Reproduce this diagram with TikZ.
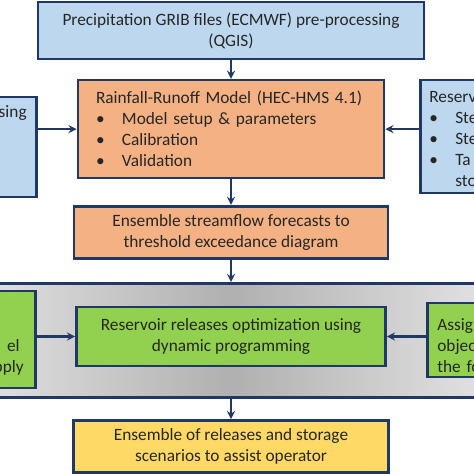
\documentclass[tikz,border=0pt]{standalone}
\usepackage{fontspec}
\setmainfont{Carlito}
\usepackage{tikz}
\usetikzlibrary{positioning,arrows}
\definecolor{navyline}{RGB}{32,56,100}
\definecolor{boxblue}{RGB}{189,215,238}
\definecolor{boxorange}{RGB}{244,177,131}
\definecolor{boxgreen}{RGB}{146,208,80}
\definecolor{boxyellow}{RGB}{255,217,102}
\newcommand{\itembul}{\makebox[26pt][l]{\textbullet}}

\begin{document}
\begin{tikzpicture}[x=1pt, y=-1pt, node distance=20pt, >=stealth, line width=2.6pt, font=\fontsize{17.3}{21}\selectfont]
  \tikzstyle{box} = [rectangle, draw=navyline, text=black!85, inner sep=0pt]
  \tikzstyle{bluebox} = [box, fill=boxblue]
  \tikzstyle{orangebox} = [box, fill=boxorange]
  \tikzstyle{greenbox} = [box, fill=boxgreen]
  \tikzstyle{yellowbox} = [box, fill=boxyellow]
  \tikzstyle{link} = [->, draw=navyline]

  \useasboundingbox (0,0) rectangle (474,474);
  \clip (0,0) rectangle (474,474);

  % main column
  \node[bluebox, minimum width=386, minimum height=57, align=center] (prep) at (231,30.5) {Precipitation GRIB files (ECMWF) pre-processing\\(QGIS)};
  \node[orangebox, text width=270pt, inner xsep=18pt, minimum height=98, align=left] (rr) [below=18.5pt of prep] {Rainfall-Runoff Model (HEC-HMS 4.1)\\ \itembul Model setup \& parameters\\ \itembul Calibration\\ \itembul Validation};
  \node[orangebox, minimum width=314, minimum height=52, align=center] (ens) [below=25.5pt of rr] {Ensemble streamflow forecasts to\\threshold exceedance diagram};
  \node[box, left color=gray!22, right color=gray!22, middle color=gray!62, minimum width=520, minimum height=114] (band) [below=22.5pt of ens] {};
  \node[greenbox, minimum width=309, minimum height=59, align=center] (opt) at (231,336.5) {Reservoir releases optimization using\\dynamic programming};
  \node[yellowbox, minimum width=315, minimum height=52, align=center] (out) [below=20.5pt of band] {Ensemble of releases and storage\\scenarios to assist operator};

  % side boxes
  \node[bluebox, anchor=east, text width=80pt, inner xsep=10pt, align=right, text height=20pt, text depth=80pt] (hydro) at (38,147) {sing};
  \node[bluebox, anchor=west, text width=102pt, inner xsep=9pt, align=left, text height=22pt, text depth=91pt] (resv) at (419,136.5) {Reserv\\ \itembul Ste\\ \itembul Ste\\ \itembul Ta\\ \hspace*{26pt}sto};
  \node[greenbox, anchor=east, text width=80pt, inner xsep=12pt, align=right, text height=60pt, text depth=37pt] (demand) at (37,339.5) {el\rule{4pt}{0pt}\\pply};
  \node[greenbox, anchor=west, text width=80pt, inner xsep=10pt, align=left, text height=27pt, text depth=47pt] (assign) at (426,340) {Assig\\objec\\the fo};

  \draw[link] (prep) -- (rr);
  \draw[link] (hydro.east |- rr.west) -- (rr.west);
  \draw[link] (resv.west |- rr.east) -- (rr.east);
  \draw[link] (rr) -- (ens);
  \draw[link] (ens) -- (band);
  \draw[link] (demand.east |- opt.west) -- (opt.west);
  \draw[link] (assign.west |- opt.east) -- (opt.east);
  \draw[link] (band) -- (out);
\end{tikzpicture}
\end{document}
